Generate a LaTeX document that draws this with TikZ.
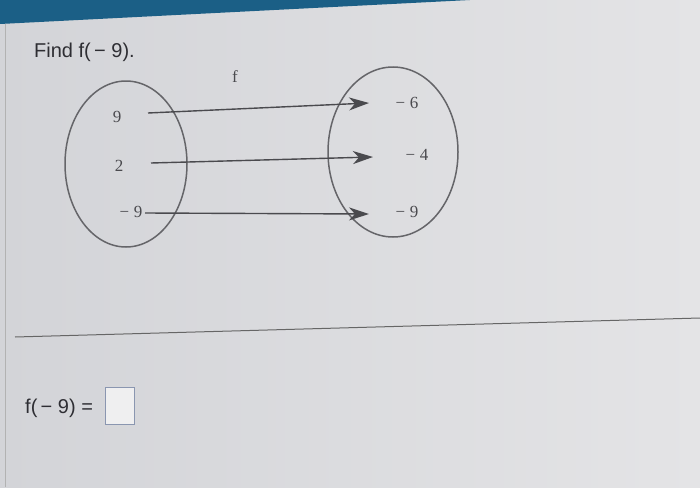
\documentclass[tikz,border=0pt]{standalone}
\usepackage{fontspec}
\setmainfont{Liberation Serif}
\newfontfamily\uisans{Liberation Sans}
\usetikzlibrary{shapes.geometric,arrows.meta}
\definecolor{bgL}{HTML}{D3D4D8}
\definecolor{bgR}{HTML}{E4E4E6}
\definecolor{barblue}{HTML}{1B5F86}
\definecolor{ink}{HTML}{4A4A4E}
\definecolor{uitext}{HTML}{2E2E33}
\definecolor{boxblue}{HTML}{8A96B0}
\tikzset{
  setoval/.style={draw=ink!85, line width=1.5pt, ellipse, inner sep=0pt},
  elem/.style={text=ink, font=\fontsize{17}{17}\selectfont, inner sep=0pt},
  maparrow/.style={draw=ink, line width=1.4pt, -{Stealth[length=20pt,width=13pt,inset=6pt]}},
  uilabel/.style={text=uitext, font=\uisans\fontsize{20}{20}\selectfont, inner sep=0pt, anchor=west}
}
\begin{document}
\begin{tikzpicture}[x=1pt,y=-1pt]
\useasboundingbox (0,0) rectangle (700,487);
\shade[left color=bgL, right color=bgR] (0,0) rectangle (700,487);
\fill[barblue] (0,0) -- (470,0) -- (0,24) -- cycle;
\draw[gray!60, line width=0.8pt] (5,24) -- (5,487);
\node[uilabel] (title) at (34,52) {Find f(\,−\;9).};
\node[setoval, minimum width=122pt, minimum height=166pt] (dom) at (126,164) {};
\node[setoval, minimum width=130pt, minimum height=170pt] (cod) at (393,152) {};
\node[elem] (fl) at (235,77) {f};
\node[elem] (d1) at (117,117) {9};
\node[elem] (d2) at (119,166) {2};
\node[elem] (d3) at (131,212) {−\;9};
\node[elem] (c1) at (407,103) {−\;6};
\node[elem] (c2) at (417,155) {−\;4};
\node[elem] (c3) at (407,212) {−\;9};
\coordinate (s1) at (148,113);
\coordinate (e1) at (369,103);
\coordinate (s2) at (151,163);
\coordinate (e2) at (373,157);
\coordinate (s3) at (145,213);
\coordinate (e3) at (369,214);
\draw[maparrow] (s1) -- (e1);
\draw[maparrow] (s2) -- (e2);
\draw[maparrow] (s3) -- (e3);
\coordinate (sepL) at (15,337);
\coordinate (sepR) at (700,318);
\draw[gray!80!black, line width=1pt] (sepL) -- (sepR);
\node[uilabel] (ans) at (25,408) {f(\,−\;9)\;=};
\node[draw=boxblue, line width=1.2pt, fill=white!40!bgR, minimum width=29pt, minimum height=37pt, inner sep=0pt] (box) at (120,406) {};
\end{tikzpicture}
\end{document}
